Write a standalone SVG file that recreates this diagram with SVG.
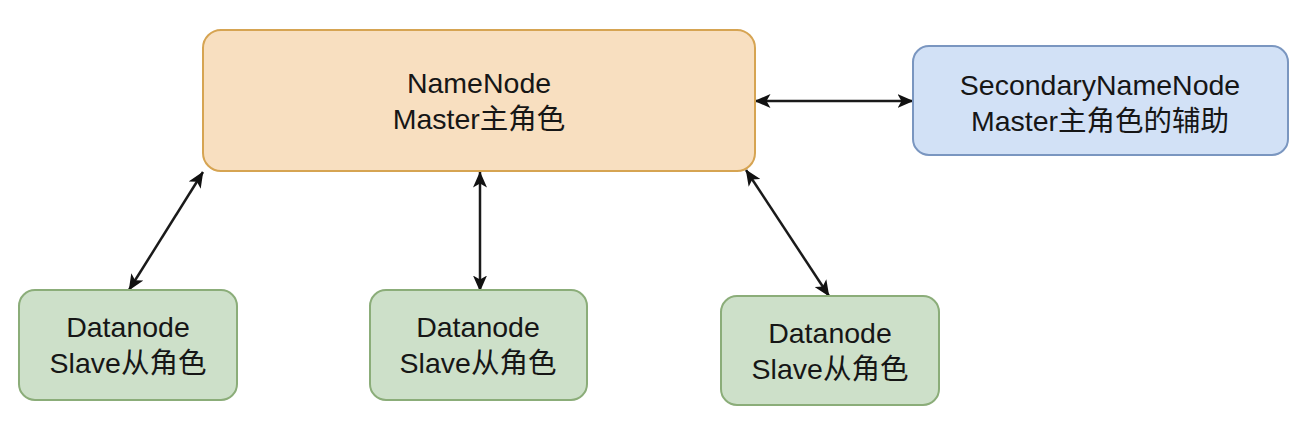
<svg xmlns="http://www.w3.org/2000/svg" width="1309" height="433" viewBox="0 0 1309 433">
<style>
text{font-family:"Liberation Sans","Noto Sans CJK SC",sans-serif;font-size:28.5px;fill:#161616;text-anchor:middle}
.conn{stroke:#1a1a1a;stroke-width:2.5;fill:none;marker-start:url(#ah);marker-end:url(#ah)}
.orange{fill:#f8dfc0;stroke:#d6a452;stroke-width:2}
.blue{fill:#d2e1f6;stroke:#7a96c0;stroke-width:2}
.green{fill:#cde0c9;stroke:#8bad79;stroke-width:2}
</style>
<defs>
<marker id="ah" viewBox="0 0 16 14" refX="15.5" refY="7" markerWidth="16" markerHeight="14" orient="auto-start-reverse" markerUnits="userSpaceOnUse">
<path d="M0,0 L16,7 L0,14 L4,7 Z" fill="#111"/>
</marker>
</defs>
<rect width="1309" height="433" fill="#ffffff"/>
<g id="connectors">
<line class="conn" x1="755" y1="101" x2="913" y2="101"/>
<line class="conn" x1="203" y1="172" x2="129" y2="290"/>
<line class="conn" x1="480" y1="172" x2="480" y2="291"/>
<line class="conn" x1="746" y1="170" x2="829" y2="296"/>
</g>
<g id="namenode">
<rect class="orange" x="203" y="30" width="552" height="141" rx="18"/>
<text x="479" y="93">NameNode</text>
<text x="479" y="129">Master主角色</text>
</g>
<g id="secondarynamenode">
<rect class="blue" x="913" y="46" width="375" height="109" rx="16"/>
<text x="1100" y="95">SecondaryNameNode</text>
<text x="1100" y="131">Master主角色的辅助</text>
</g>
<g id="datanode1">
<rect class="green" x="19" y="290" width="218" height="110" rx="16"/>
<text x="128" y="337">Datanode</text>
<text x="128" y="373">Slave从角色</text>
</g>
<g id="datanode2">
<rect class="green" x="370" y="290" width="217" height="110" rx="16"/>
<text x="478" y="337">Datanode</text>
<text x="478" y="373">Slave从角色</text>
</g>
<g id="datanode3">
<rect class="green" x="721" y="296" width="218" height="109" rx="16"/>
<text x="830" y="343">Datanode</text>
<text x="830" y="379">Slave从角色</text>
</g>
</svg>
